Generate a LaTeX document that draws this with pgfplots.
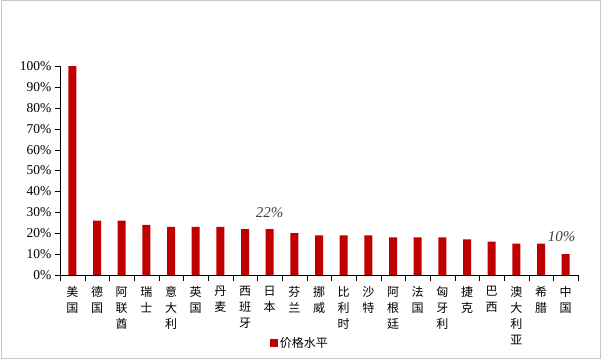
\documentclass[border=0pt]{standalone}
\usepackage{fontspec}
\setmainfont{Liberation Serif}
\newfontfamily\cjk{Noto Sans CJK SC}
\usepackage{pgfplots}
\pgfplotsset{compat=1.18}
\definecolor{barred}{RGB}{192,0,0}
\definecolor{framegray}{RGB}{200,200,200}
\begin{document}
\begin{tikzpicture}[x=1pt,y=1pt]
\useasboundingbox (0,0) rectangle (602,362);
\draw[framegray] (1,3.5) rectangle (600,361.5);
\begin{axis}[
  at={(60pt,87pt)}, anchor=south west,
  scale only axis, width=518pt, height=209pt,
  xmin=-0.5, xmax=20.5, ymin=0, ymax=100,
  axis lines=left, axis line style={-, black},
  ybar, bar width=8pt,
  tick align=outside,
  ytick={0,10,...,100},
  yticklabel={\pgfmathprintnumber{\tick}\%},
  /pgf/number format/assume math mode=true,
  yticklabel style={font=\fontsize{13.5}{14}\selectfont},
  major tick length=5pt,
  minor tick length=6pt,
  xtick={0,...,20},
  minor xtick={-0.5,0.5,...,20.5},
  major x tick style={draw=none},
  minor x tick style={black},
  ytick style={black},
  xticklabels={{美\\国},{德\\国},{阿\\联\\酋},{瑞\\士},{意\\大\\利},{英\\国},{丹\\麦},{西\\班\\牙},{日\\本},{芬\\兰},{挪\\威},{比\\利\\时},{沙\\特},{阿\\根\\廷},{法\\国},{匈\\牙\\利},{捷\\克},{巴\\西},{澳\\大\\利\\亚},{希\\腊},{中\\国}},
  xticklabel style={font=\cjk\fontsize{12}{16}\selectfont, align=center, anchor=north, yshift=-3pt},
  legend style={draw=none, at={(0.463,-0.325)}, anchor=center, font=\cjk\fontsize{12}{14}\selectfont, fill=none},
  legend image code/.code={\fill[barred] (0pt,-4pt) rectangle (8pt,4pt);},
]
\addplot[fill=barred, draw=none] coordinates {
(0,100) (1,26) (2,26) (3,24) (4,23) (5,23) (6,23) (7,22) (8,22) (9,20) (10,19) (11,19) (12,19) (13,18) (14,18) (15,18) (16,17) (17,16) (18,15) (19,15) (20,10)};
\addlegendentry{价格水平}
\node[font=\itshape\fontsize{15}{15}\selectfont, anchor=south, inner sep=0pt, text=black!75] at (axis cs:8,22) [yshift=11pt] {22\%};
\node[font=\itshape\fontsize{15}{15}\selectfont, anchor=south, inner sep=0pt, text=black!75] at (axis cs:20,10) [yshift=12pt, xshift=-4pt] {10\%};
\end{axis}
\end{tikzpicture}
\end{document}
